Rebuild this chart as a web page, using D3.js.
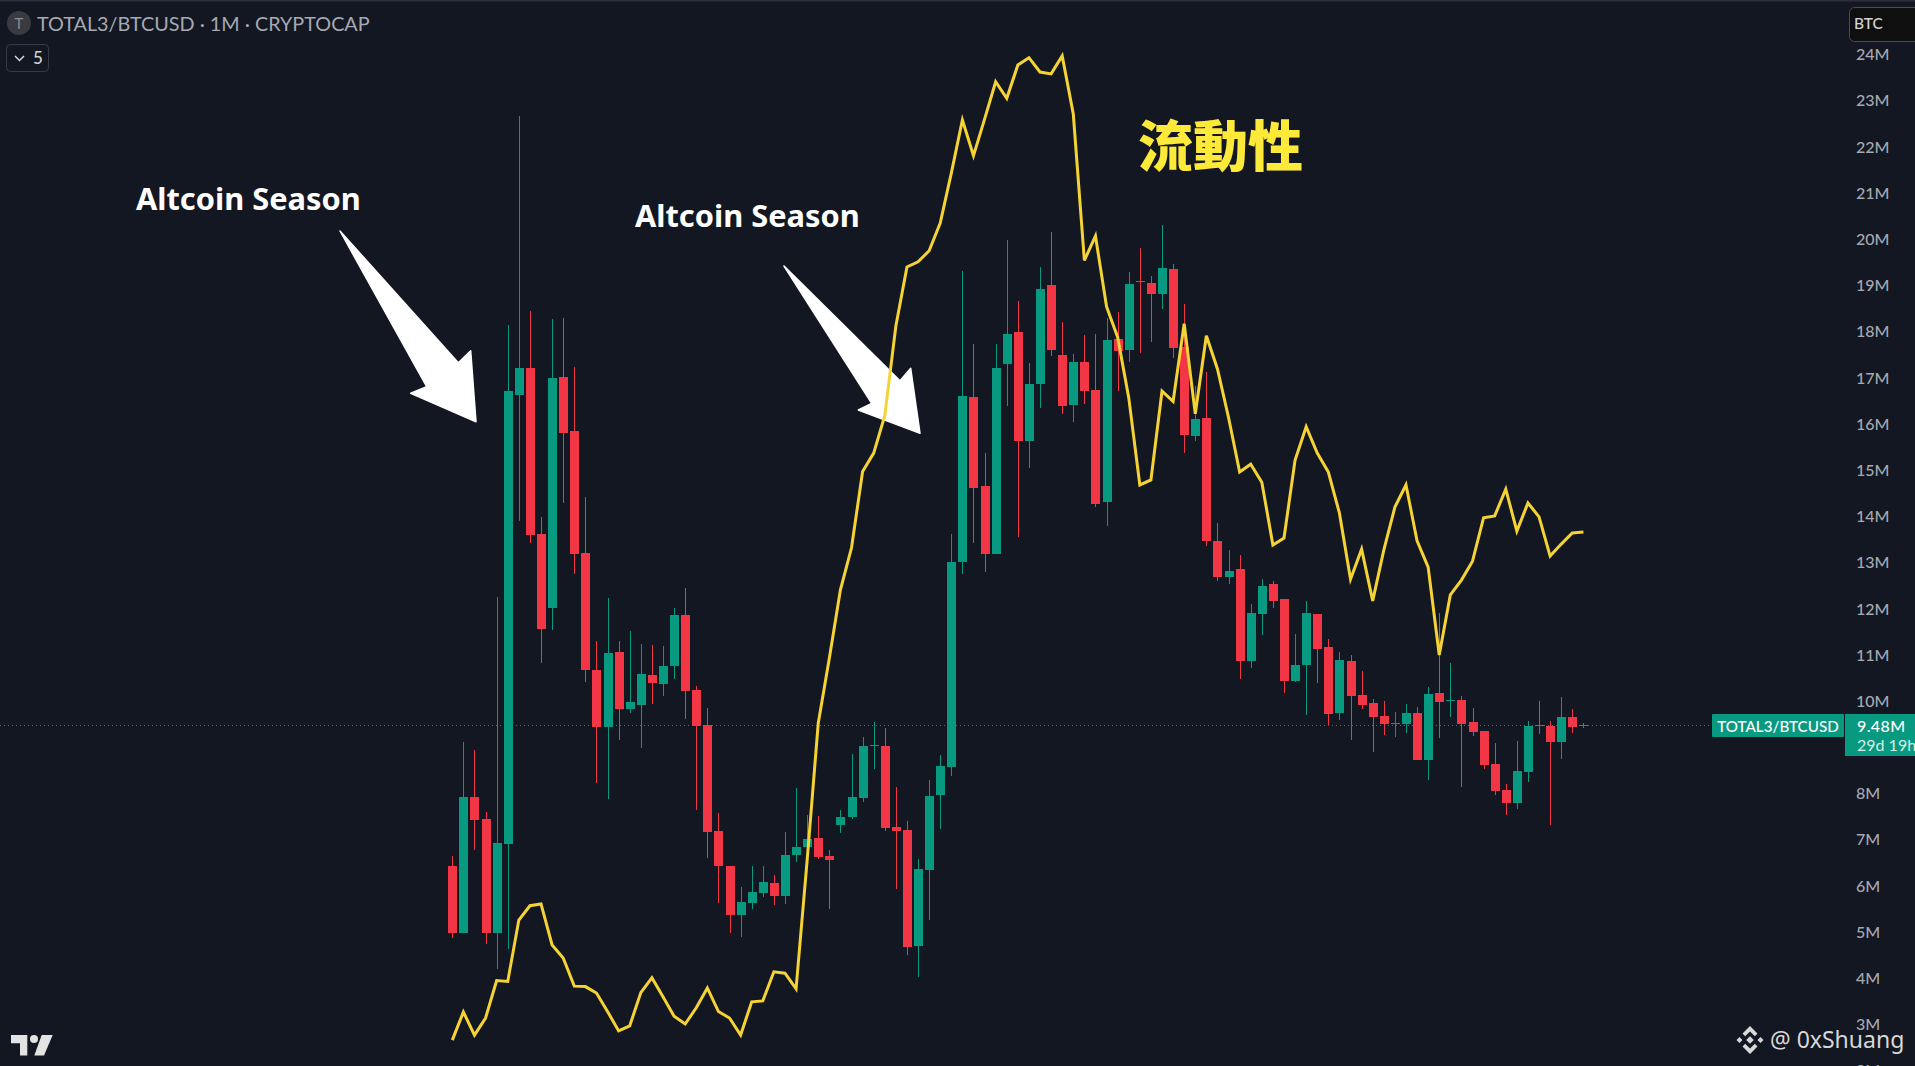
<!DOCTYPE html>
<html><head><meta charset="utf-8">
<script src="https://cdn.jsdelivr.net/npm/d3@7/dist/d3.min.js"></script>
<style>html,body{margin:0;padding:0;background:#131722;overflow:hidden}svg{display:block}</style>
</head><body><div id="chart"></div>
<script>
const symbolLabel = "TOTAL3/BTCUSD";
const titleText = "TOTAL3/BTCUSD · 1M · CRYPTOCAP";
const annotationText = "Altcoin Season";
const liquidityText = "流動性";
const priceTicks = [24,23,22,21,20,19,18,17,16,15,14,13,12,11,10,8,7,6,5,4,3,2];
const lastPriceText = "9.48M";
const countdownText = "29d 19h";

const opens = [6.42,4.98,7.92,7.44,4.96,6.90,16.62,17.20,13.61,12.01,17.01,15.84,13.20,10.66,9.42,11.05,9.83,9.91,10.56,10.36,10.75,11.86,10.23,9.47,7.18,6.42,5.36,5.62,5.84,6.05,5.77,6.66,6.83,7.03,6.64,7.31,7.48,7.89,9.03,9.02,7.27,7.20,4.69,6.33,7.96,8.56,13.00,16.58,14.65,13.18,17.29,17.98,15.62,16.86,19.00,17.48,16.40,17.33,16.73,14.30,17.83,17.59,19.08,19.04,18.81,19.35,17.66,15.73,16.12,13.46,12.68,12.85,10.86,11.88,12.53,12.20,10.43,10.77,11.88,11.16,9.73,10.86,10.12,9.95,9.67,9.50,9.50,9.73,8.72,10.17,10.00,10.02,9.54,9.34,8.63,8.07,7.79,8.46,9.47,9.45,9.11,9.65,9.45];
const highs = [6.64,9.10,8.93,7.59,12.25,18.13,22.66,18.44,13.98,18.26,18.29,17.22,14.41,11.29,12.22,11.29,11.51,11.23,11.21,11.18,12.01,12.44,10.32,9.84,7.57,6.42,5.97,6.42,6.42,6.23,7.16,8.11,7.53,7.50,6.77,7.63,8.85,9.21,9.54,9.41,8.13,7.40,6.57,8.28,8.82,13.61,19.30,17.72,15.36,17.72,19.97,18.65,17.31,19.39,20.14,18.20,17.51,17.92,17.94,18.29,18.42,19.27,19.80,19.19,20.30,19.45,18.59,16.81,17.12,13.85,13.26,13.15,12.09,12.63,12.59,12.20,11.44,12.16,11.88,11.34,11.05,10.99,10.64,10.04,9.99,9.76,9.93,9.86,10.30,11.90,10.82,10.10,9.84,9.34,9.08,8.20,9.13,9.56,9.99,9.56,10.08,9.82,9.52];
const lows = [4.86,4.98,6.77,4.74,4.19,4.62,13.90,13.41,10.82,11.53,14.27,12.74,10.41,8.22,7.87,9.15,9.73,8.98,9.93,10.10,10.47,9.60,7.63,6.59,5.62,4.97,4.88,5.49,5.75,5.58,5.60,6.51,6.38,6.57,5.49,7.14,7.44,7.81,8.52,7.18,5.92,4.49,4.02,5.25,7.22,8.37,12.74,13.41,12.79,13.18,16.39,13.54,15.03,16.34,17.47,16.21,16.03,16.42,14.19,13.78,16.71,17.33,17.53,17.77,18.48,17.42,15.36,15.62,13.35,12.59,12.53,10.47,10.71,11.42,12.01,10.17,10.40,9.69,10.38,9.47,9.58,9.15,9.82,8.89,9.26,9.21,9.30,8.72,8.28,9.19,9.65,8.13,9.24,8.52,7.96,7.53,7.66,8.24,9.28,7.31,8.74,9.30,9.41];
const closes = [4.98,7.92,7.42,4.96,6.92,16.71,17.20,13.59,11.55,16.99,15.80,13.18,10.66,9.42,11.03,9.83,9.97,10.58,10.38,10.75,11.86,10.21,9.45,7.16,6.42,5.36,5.64,5.86,6.08,5.77,6.66,6.83,7.01,6.62,6.55,7.48,7.92,9.02,9.04,7.24,7.18,4.67,6.36,7.94,8.59,13.00,16.60,14.60,13.18,17.20,17.94,15.62,16.86,18.91,17.59,16.38,17.33,16.71,14.26,17.81,17.57,19.02,19.06,18.81,19.37,17.64,15.75,16.10,13.46,12.68,12.81,10.86,11.90,12.48,12.16,10.43,10.77,11.90,11.12,9.71,10.88,10.10,9.91,9.65,9.50,9.52,9.73,8.72,10.15,9.97,10.02,9.50,9.32,8.61,8.05,7.79,8.48,9.45,9.46,9.11,9.65,9.43,9.47];
const liquidity = [2.65,3.26,2.76,3.13,3.94,3.92,5.25,5.56,5.60,4.71,4.43,3.82,3.81,3.67,3.27,2.85,2.96,3.68,4.00,3.59,3.17,3.00,3.35,3.78,3.27,3.13,2.76,3.48,3.50,4.13,4.10,3.76,6.55,9.51,10.92,12.40,13.31,14.96,15.36,16.17,18.11,19.39,19.50,19.74,20.34,21.42,22.57,21.80,22.59,23.40,23.04,23.76,23.92,23.61,23.57,23.96,22.70,19.53,20.06,18.53,17.87,16.56,14.67,14.78,16.70,16.48,18.16,16.21,17.90,17.18,16.13,14.95,15.12,14.73,13.37,13.52,15.21,15.93,15.36,14.95,14.06,12.63,13.28,12.16,13.26,14.19,14.67,13.46,12.89,10.99,12.29,12.61,13.02,13.96,14.00,14.58,13.67,14.28,13.98,13.13,13.39,13.63,13.65];

const W = 1915, H = 1066;
const C = {bg:"#131722", up:"#089981", down:"#f23645", line:"#f5d335", axis:"#a6a9b2", title:"#a6a9b2"};
const FONT = "Lato, 'Open Sans', sans-serif";

const x = d3.scaleLinear().domain([0, opens.length - 1]).range([452.3, 1583.4]);
const y = d3.scaleLinear().domain([3, 24]).range([1024, 54]);

const svg = d3.select("#chart").append("svg").attr("width", W).attr("height", H).attr("viewBox", `0 0 ${W} ${H}`);
svg.append("rect").attr("width", W).attr("height", H).attr("fill", C.bg);
svg.append("rect").attr("width", W).attr("height", 1.5).attr("fill", "#2a2e39");

// price line
const lastClose = closes[closes.length - 1];
svg.append("line").attr("x1", 0).attr("x2", 1712).attr("y1", Math.round(y(lastClose)) + .5).attr("y2", Math.round(y(lastClose)) + .5)
  .attr("stroke", C.up).attr("stroke-width", 1).attr("stroke-dasharray", "1 3").attr("opacity", .9);

// candles
const candles = opens.map((o, i) => ({i, o, h: highs[i], l: lows[i], c: closes[i]}));
const g = svg.append("g").attr("shape-rendering", "crispEdges");
const col = d => d.c >= d.o ? C.up : C.down;
g.selectAll("rect.wick").data(candles).join("rect").attr("class", "wick")
  .attr("x", d => Math.round(x(d.i)) - .5).attr("width", 1)
  .attr("y", d => Math.round(y(d.h))).attr("height", d => Math.max(1, Math.round(y(d.l)) - Math.round(y(d.h))))
  .attr("fill", col);
g.selectAll("rect.body").data(candles).join("rect").attr("class", "body")
  .attr("x", d => Math.round(x(d.i)) - 4.5).attr("width", 9)
  .attr("y", d => Math.round(y(Math.max(d.o, d.c))))
  .attr("height", d => Math.max(1, Math.round(y(Math.min(d.o, d.c))) - Math.round(y(Math.max(d.o, d.c)))))
  .attr("fill", col);

// arrows
const arrowShapes = [
  [[340,231],[458.3,362.7],[470.7,350.7],[476,421.7],[410.7,393.3],[426.7,386.7]],
  [[784,266],[900,380.7],[910.7,368.3],[920,433.3],[858.3,410],[871.7,403.3]]
];
svg.selectAll("polygon.arrow").data(arrowShapes).join("polygon").attr("class", "arrow")
  .attr("points", d => d.join(" ")).attr("fill", "#fff").attr("stroke", "#fff").attr("stroke-width", 1.5).attr("stroke-linejoin", "round");

// liquidity line
const lineGen = d3.line().x((d, i) => x(i)).y(d => y(d));
svg.append("path").datum(liquidity).attr("d", lineGen).attr("fill", "none")
  .attr("stroke", C.line).attr("stroke-width", 3).attr("stroke-linejoin", "miter");

// axis
const axis = d3.axisRight(y).tickValues(priceTicks).tickFormat(d => d + "M").tickSize(0).tickPadding(0);
const ag = svg.append("g").attr("transform", "translate(1856,0.6)").call(axis);
ag.select(".domain").remove();
ag.selectAll("text").attr("font-family", FONT).attr("font-size", 16).attr("fill", C.axis).attr("font-weight", 500);

// header
svg.append("circle").attr("cx", 19).attr("cy", 23).attr("r", 12).attr("fill", "#3a3b40");
svg.append("text").attr("x", 19).attr("y", 28.5).attr("text-anchor", "middle").attr("font-family", FONT).attr("font-size", 15).attr("fill", "#8a8c92").text("T");
svg.append("text").attr("x", 37).attr("y", 31).attr("font-family", FONT).attr("font-size", 19.8).attr("fill", C.title).text(titleText);
svg.append("rect").attr("x", 6.5).attr("y", 44.5).attr("width", 42).attr("height", 27).attr("rx", 4).attr("fill", "none").attr("stroke", "#363a45");
svg.append("path").attr("d", "M15 56 L19.5 60.5 L24 56").attr("fill", "none").attr("stroke", "#d1d4dc").attr("stroke-width", 1.5);
svg.append("text").attr("x", 33).attr("y", 64).attr("font-family", FONT).attr("font-size", 17).attr("font-weight", 500).attr("fill", "#d1d4dc").text("5");

// BTC box
svg.append("rect").attr("x", 1849.5).attr("y", 7.5).attr("width", 80).attr("height", 34).attr("rx", 5).attr("fill", "#0f0f10").attr("stroke", "#4a4d57");
svg.append("text").attr("x", 1854).attr("y", 29).attr("font-family", FONT).attr("font-size", 15.5).attr("font-weight", 500).attr("fill", "#d1d4dc").text("BTC");

// last price labels
svg.append("rect").attr("x", 1712).attr("y", 714).attr("width", 132).attr("height", 23).attr("rx", 1).attr("fill", C.up);
svg.append("text").attr("x", 1778).attr("y", 731.5).attr("text-anchor", "middle").attr("font-family", FONT).attr("font-size", 15.2).attr("font-weight", 500).attr("fill", "#fff").text(symbolLabel);
svg.append("rect").attr("x", 1845).attr("y", 714).attr("width", 70).attr("height", 42).attr("fill", C.up);
svg.append("text").attr("x", 1857).attr("y", 732).attr("font-family", FONT).attr("font-size", 16).attr("font-weight", 500).attr("letter-spacing", .4).attr("fill", "#fff").text(lastPriceText);
svg.append("text").attr("x", 1857).attr("y", 751).attr("font-family", FONT).attr("font-size", 16).attr("fill", "#d5efe9").text(countdownText);

// annotations
[[136, 210], [635, 227]].forEach(p => {
  svg.append("text").attr("x", p[0]).attr("y", p[1]).attr("font-family", "'Noto Sans', sans-serif").attr("font-weight", 700).attr("font-size", 30.8).attr("fill", "#fff").text(annotationText);
});
svg.append("text").attr("x", 1138).attr("y", 166).attr("font-family", "'Noto Sans CJK TC', sans-serif").attr("font-weight", 900).attr("font-size", 55).attr("fill", "#fde93a").text(liquidityText);

// TradingView logo
svg.append("g").attr("fill", "#e3e3e3").call(s => {
  s.append("polygon").attr("points", "11,1035 27.3,1035 27.3,1055.5 20,1055.5 20,1043.3 11,1043.3");
  s.append("circle").attr("cx", 34).attr("cy", 1039).attr("r", 4);
  s.append("polygon").attr("points", "41.7,1035 52.7,1035 44,1055.5 34.3,1055.5");
});

// watermark
const wm = svg.append("g").attr("transform", "translate(1750,1040)").attr("fill", "#d8d8d8");
wm.append("path").attr("d", [
  "M0 -14 L7.5 -6.5 L4.8 -3.8 L0 -8.6 L-4.8 -3.8 L-7.5 -6.5 Z",
  "M0 14 L7.5 6.5 L4.8 3.8 L0 8.6 L-4.8 3.8 L-7.5 6.5 Z",
  "M0 -3.8 L3.8 0 L0 3.8 L-3.8 0 Z",
  "M-10.5 -3 L-7.5 0 L-10.5 3 L-13.5 0 Z",
  "M10.5 -3 L13.5 0 L10.5 3 L7.5 0 Z"].join(" "));
svg.append("text").attr("x", 1770).attr("y", 1048).attr("font-family", "'Noto Sans', sans-serif").attr("font-size", 23).attr("fill", "#d8d8d8").text("@ 0xShuang");
</script></body></html>
